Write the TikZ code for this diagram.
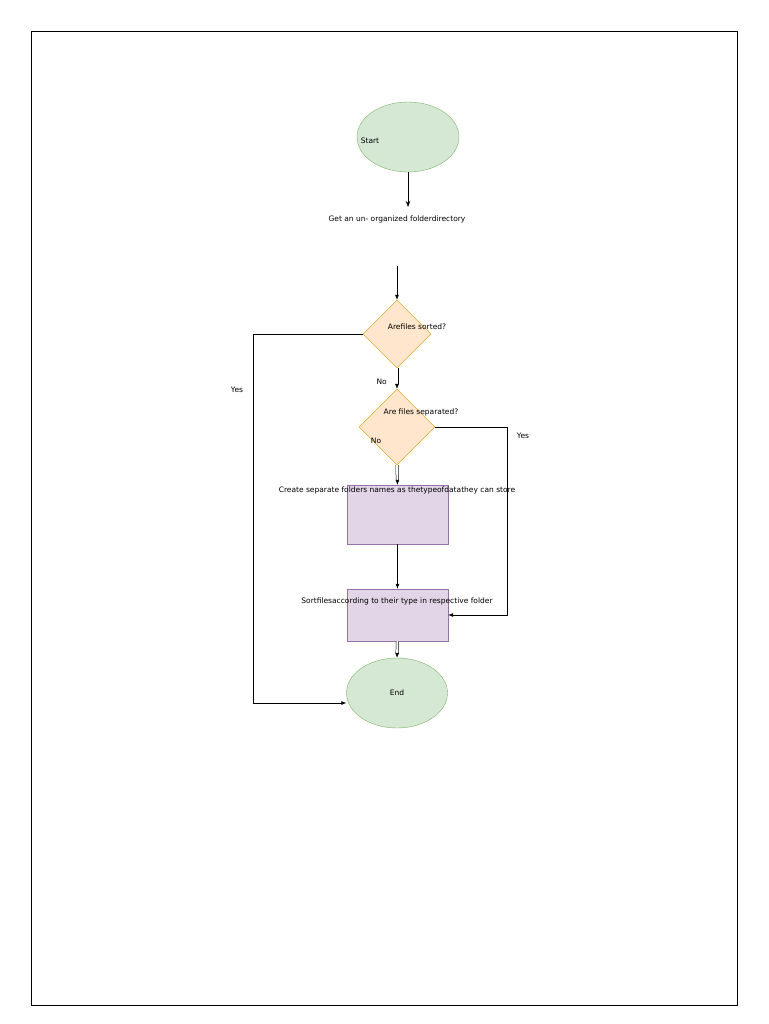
\documentclass[tikz,border=0pt]{standalone}
\usepackage{fontspec}
\setmainfont{DejaVu Sans}
\usetikzlibrary{shapes.geometric,arrows.meta}
\definecolor{gfill}{HTML}{D5E8D4}\definecolor{gline}{HTML}{82B366}
\definecolor{ofill}{HTML}{FFE6CC}\definecolor{oline}{HTML}{D79B00}
\definecolor{pfill}{HTML}{E1D5E7}\definecolor{pline}{HTML}{9673A6}
\begin{document}
\begin{tikzpicture}[x=1pt,y=-1pt,font=\fontsize{7.5}{9}\selectfont,
 term/.style={ellipse,draw=gline,fill=gfill,minimum width=102pt,minimum height=70pt,inner sep=0},
 dec/.style={diamond,draw=oline,fill=ofill,inner sep=0},
 proc/.style={rectangle,draw=pline,fill=pfill,inner sep=0},
 lab/.style={inner sep=0},
 arr/.style={-{Latex[length=5pt,width=4pt]},line width=0.6pt},
 dbl/.style={double,double distance=2pt,-{Latex[length=5pt,width=4pt]},line width=0.5pt}]
\useasboundingbox (0,0) rectangle (768,1024);
\draw[line width=0.6pt] (31,31) rectangle (737,1005);
\node[term] (start) at (408,137) {};
\node[lab] at (370,141) {Start};
\coordinate (s1) at (408,207);
\draw[-{Stealth[length=6pt]},line width=0.6pt] (start.south) -- (s1);
\node[lab] (get) at (397,219) {Get an un- organized folderdirectory};
\coordinate (g1) at (397,266);
\node[dec,minimum width=68pt,minimum height=68pt] (d1) at (397,334) {};
\node[lab] at (417,327) {Arefiles sorted?};
\node[dec,minimum width=76pt,minimum height=76pt] (d2) at (397,427) {};
\node[lab] at (421,412) {Are files separated?};
\node[lab] at (376,441) {No};
\node[proc,minimum width=101pt,minimum height=59pt] (r1) at (397.5,514.5) {};
\node[lab] at (397,490) {Create separate folders names as thetypeofdatathey can store};
\node[proc,minimum width=101pt,minimum height=52pt] (r2) at (397.5,615) {};
\node[lab] at (397,601) {Sortfilesaccording to their type in respective folder};
\node[term,minimum width=101pt] (end) at (397,693) {};
\node[lab] at (397,693) {End};
\draw[arr] (g1) -- (d1.north);
\draw[dbl] (d1.south) -- node[lab,left=10pt,pos=0.65] {No} (d2.north);
\draw[dbl] (d2.south) -- (r1.north);
\draw[arr] (r1.south) -- (r2.north);
\draw[dbl] (r2.south) -- (end.north);
\draw[arr] (d1.west) -- (253,334) -- (253,703) -- (end.west |- 0,703);
\node[lab] at (237,390) {Yes};
\draw[arr] (d2.east) -- (507,427) -- (507,615) -- (r2.east);
\node[lab] at (523,436) {Yes};
\end{tikzpicture}
\end{document}
